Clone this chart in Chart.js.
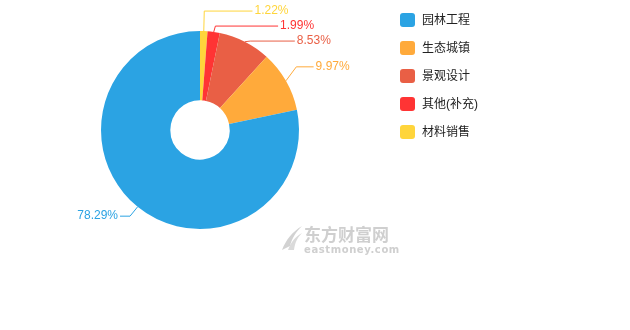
<!DOCTYPE html>
<html>
<head>
<meta charset="utf-8">
<script src="https://cdn.jsdelivr.net/npm/chart.js@4/dist/chart.umd.min.js"></script>
<style>
    body { margin: 0; background: #fff; }
    #wrap { position: relative; width: 630px; height: 330px; }
    #mark { position: absolute; left: 280px; top: 222px; color: #cfcfcf; font-family: 'Noto Sans CJK SC', sans-serif; }
    #mark svg { position: absolute; left: 0; top: 2px; }
    #mark .txt { position: absolute; left: 24px; top: 2px; width: 100px; }
    #mark .cn { font-size: 17px; font-weight: 700; line-height: 20px; }
    #mark .en { font-family: 'DejaVu Sans', sans-serif; font-size: 10px; font-weight: 700; letter-spacing: 0.6px; line-height: 10px; margin-top: 1px; }
</style>
</head>
<body>
<div id="wrap">
    <canvas id="pie" width="630" height="330"></canvas>
    <div id="mark">
        <svg width="24" height="28" viewBox="0 0 24 28">
            <path d="M2 26 C6 16 12 8 22 2 C16 8 12 14 10 22 Z" fill="#d2d2d2"/>
            <path d="M8 26 C11 18 15 13 22 9 C17 14 15 19 14 26 Z" fill="#dadada"/>
        </svg>
        <div class="txt"><div class="cn">东方财富网</div><div class="en">eastmoney.com</div></div>
    </div>
</div>
<script>
// 数据（图例顺序）
const categories = ['园林工程', '生态城镇', '景观设计', '其他(补充)', '材料销售'];
const shares = [78.29, 9.97, 8.53, 1.99, 1.22];
const colors = ['#2ba3e3', '#ffaa3b', '#e95f45', '#ff3434', '#ffd53b'];

const FONT = "'Liberation Sans', 'Noto Sans CJK SC', sans-serif";

// ECharts 是逆时针画的，所以这里把顺序倒过来给 Chart.js
const pieLabels = categories.slice().reverse();
const pieData = shares.slice().reverse();
const pieColors = colors.slice().reverse();

// 外部标签 + 引导线
const outsideLabels = {
    id: 'outsideLabels',
    afterDatasetsDraw(chart) {
        const ctx = chart.ctx;
        const arcs = chart.getDatasetMeta(0).data;
        const len1 = 12, len2 = 10, gap = 15, R = 130;

        const items = arcs.map((arc, i) => {
            const p = arc.getProps(['x', 'y', 'startAngle', 'endAngle', 'outerRadius'], true);
            const mid = (p.startAngle + p.endAngle) / 2;
            const cos = Math.cos(mid), sin = Math.sin(mid);
            return {
                cx: p.x, cy: p.y,
                sx: p.x + p.outerRadius * cos, sy: p.y + p.outerRadius * sin,
                ex: p.x + (p.outerRadius + len1) * cos, ey: p.y + (p.outerRadius + len1) * sin,
                dir: cos >= 0 ? 1 : -1,
                text: pieData[i].toFixed(2) + '%',
                color: pieColors[i]
            };
        });
        items.forEach(it => it.y = it.ey);

        [1, -1].forEach(dir => {
            const side = items.filter(it => it.dir === dir).sort((a, b) => a.ey - b.ey);
            let last = 7 - gap, total = 0;
            side.forEach(it => {
                if (it.y < last + gap) { total += last + gap - it.y; it.y = last + gap; }
                last = it.y;
            });
            if (total > 0) {
                side.forEach(it => it.y -= total / side.length);
                const over = 7 - side[0].y;
                if (over > 0) side.forEach(it => it.y += over);
            }
            let lastDx = 0;
            side.forEach(it => {
                const dy = Math.abs(it.y - it.cy);
                let dx;
                if (total > 0 && dy < R) {
                    dx = Math.sqrt(R * R - dy * dy);
                    if (it.cy > it.y && dx <= lastDx) dx = lastDx + 10;
                    lastDx = dx;
                    it.lx = it.cx + dx * dir;
                } else {
                    it.lx = it.ex + len2 * dir;
                }
                if ((it.lx - it.ex) * dir < 8) it.lx = it.ex + 8 * dir;
            });
        });

        ctx.save();
        ctx.lineWidth = 1;
        ctx.font = '12px ' + FONT;
        ctx.textBaseline = 'middle';
        items.forEach(it => {
            ctx.strokeStyle = it.color;
            ctx.beginPath();
            ctx.moveTo(it.sx, it.sy);
            ctx.lineTo(it.ex, it.y);
            ctx.lineTo(it.lx, it.y);
            ctx.stroke();
            ctx.fillStyle = it.color;
            ctx.textAlign = it.dir > 0 ? 'left' : 'right';
            ctx.fillText(it.text, it.lx + 2 * it.dir, it.y);
        });
        ctx.restore();
    }
};

// 右侧图例
const sideLegend = {
    id: 'sideLegend',
    afterDraw(chart) {
        const ctx = chart.ctx;
        ctx.save();
        ctx.font = '12px ' + FONT;
        ctx.textBaseline = 'middle';
        ctx.textAlign = 'left';
        categories.forEach((name, i) => {
            const y = 13 + i * 28;
            ctx.fillStyle = colors[i];
            ctx.beginPath();
            ctx.roundRect(400, y, 15, 14, 3);
            ctx.fill();
            ctx.fillStyle = '#222';
            ctx.fillText(name, 422, y + 7.5);
        });
        ctx.restore();
    }
};

new Chart(document.getElementById('pie'), {
    type: 'doughnut',
    data: {
        labels: pieLabels,
        datasets: [{
            data: pieData,
            backgroundColor: pieColors,
            borderWidth: 0,
            hoverOffset: 0
        }]
    },
    options: {
        responsive: false,
        animation: false,
        cutout: '30%',
        rotation: 0,
        layout: { padding: { left: 101, right: 331, top: 31, bottom: 101 } },
        plugins: {
            legend: { display: false },
            tooltip: { enabled: false }
        },
        events: []
    },
    plugins: [outsideLabels, sideLegend]
});
</script>
</body>
</html>
